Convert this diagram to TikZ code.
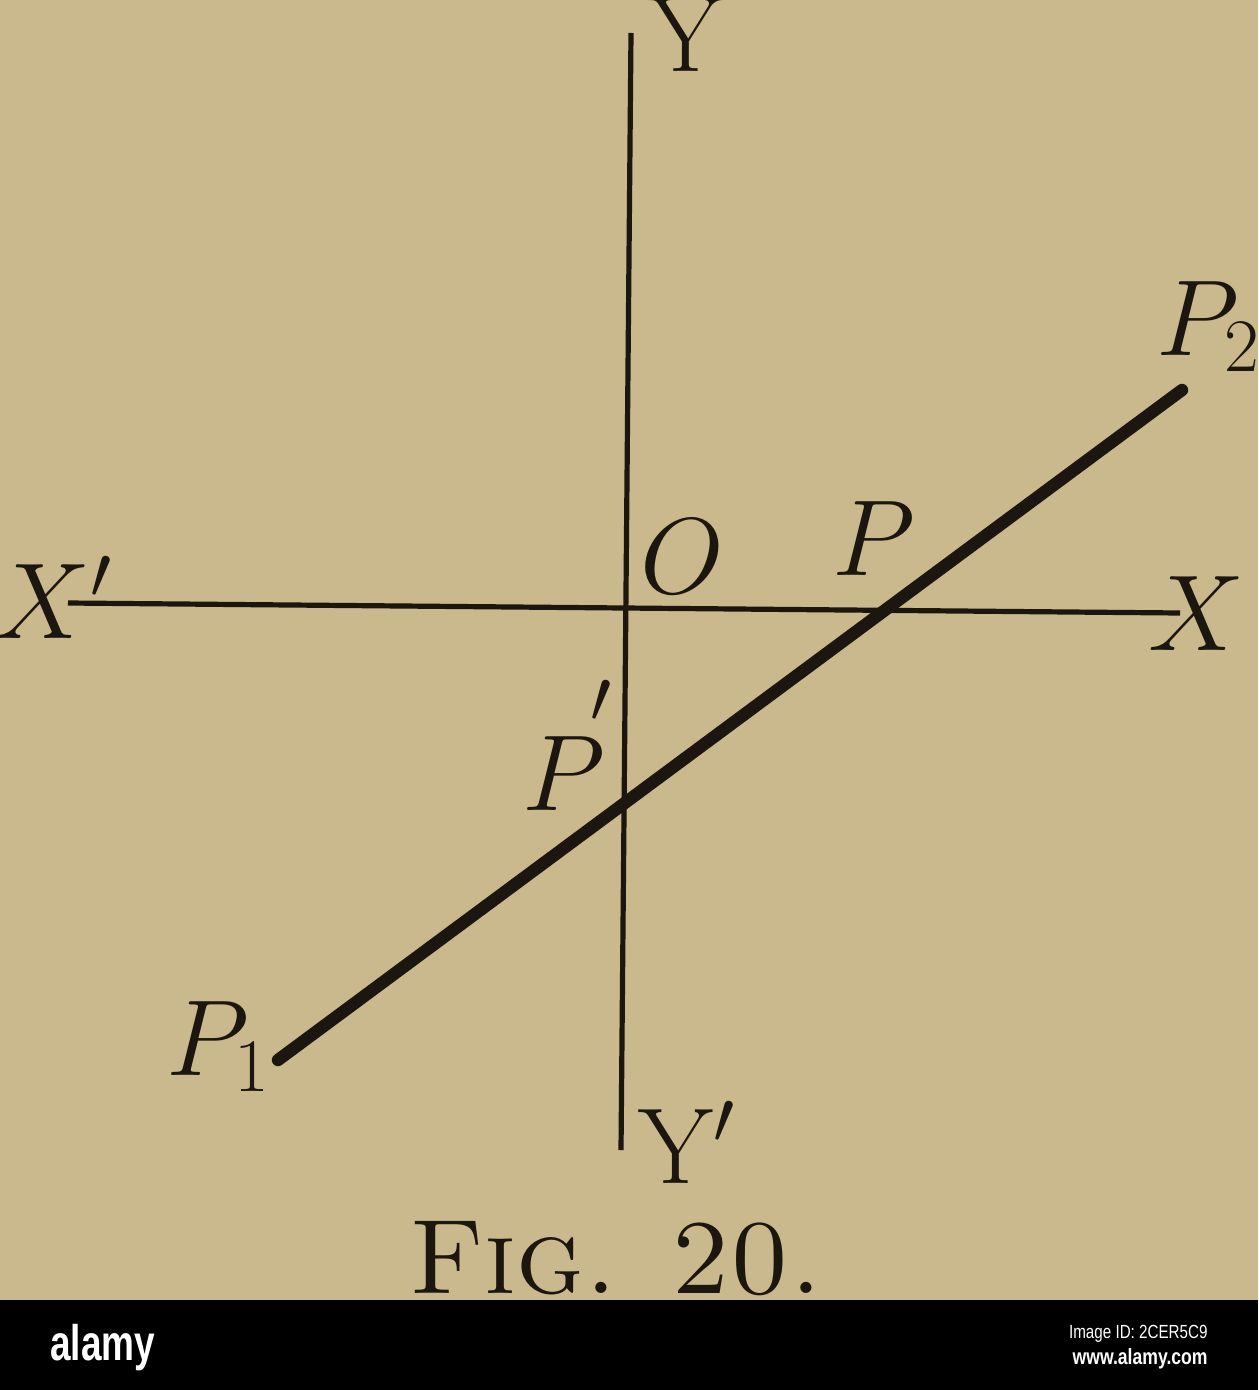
\RequirePackage{fix-cm}
\documentclass[tikz,border=0pt]{standalone}
\usepackage{fontspec}
\newfontfamily\barfont{Liberation Sans}
\definecolor{paper}{RGB}{201,185,140}
\definecolor{ink}{RGB}{28,22,16}
\begin{document}
\begin{tikzpicture}[x=0.5pt,y=-0.5pt,
  axisline/.style={draw=ink,line width=2.6pt},
  graphline/.style={draw=ink,line width=6.2pt,line cap=round},
  lab/.style={font=\fontsize{54}{60}\selectfont,text=ink,inner sep=0pt},
  caption/.style={font=\fontsize{53}{60}\selectfont,text=ink,inner sep=0pt},
  bartext/.style={text=white,inner sep=0pt}]
\fill[paper] (0,0) rectangle (1258,1390);
\useasboundingbox (0,0) rectangle (1258,1390);
% axes
\coordinate (ytop) at (631,33);
\coordinate (ybot) at (621,1150);
\coordinate (xleft) at (68,603);
\coordinate (xright) at (1180,613);
\draw[axisline] (ytop) -- (ybot);
\draw[axisline] (xleft) -- (xright);
% line P1 P2
\coordinate (p1) at (278,1060);
\coordinate (p2) at (1182,390);
\draw[graphline] (p1) -- (p2);
% labels
\node[lab,anchor=base west] (lxp) at (-6,638) {$X'$};
\node[lab,anchor=base west] (lx) at (1148,650) {$X$};
\node[lab,anchor=base] (ly) at (686,72) {Y};
\node[lab,anchor=base west] (lyp) at (638,1183) {Y$'$};
\node[lab,anchor=base west] (lo) at (640,593) {$O$};
\node[lab,anchor=base west] (lp) at (832,575) {$P$};
\node[lab,anchor=base west] (lpp) at (522,810) {$P$};
\node[lab,anchor=base west] (lppr) at (590,762) {$'$};
\node[lab,anchor=base west] (lp1) at (166,1075) {$P_{1}$};
\node[lab,anchor=base west] (lp2) at (1156,355) {$P_{2}$};
\node[caption,anchor=base] (cap) at (616,1293) {\textsc{Fig. 20.}};
% bottom bar
\fill[black] (0,1300) rectangle (1258,1390);
\node[bartext,anchor=base west] (logo) at (50,1360) {\scalebox{0.74}[1]{\barfont\bfseries\fontsize{25}{28}\selectfont alamy}};
\node[bartext,anchor=base east] (imgid) at (1208,1338) {\scalebox{0.8}[1]{\barfont\fontsize{9.5}{11}\selectfont Image ID: 2CER5C9}};
\node[bartext,anchor=base east] (www) at (1208,1364) {\scalebox{0.8}[1]{\barfont\bfseries\fontsize{11}{13}\selectfont www.alamy.com}};
\end{tikzpicture}
\end{document}
